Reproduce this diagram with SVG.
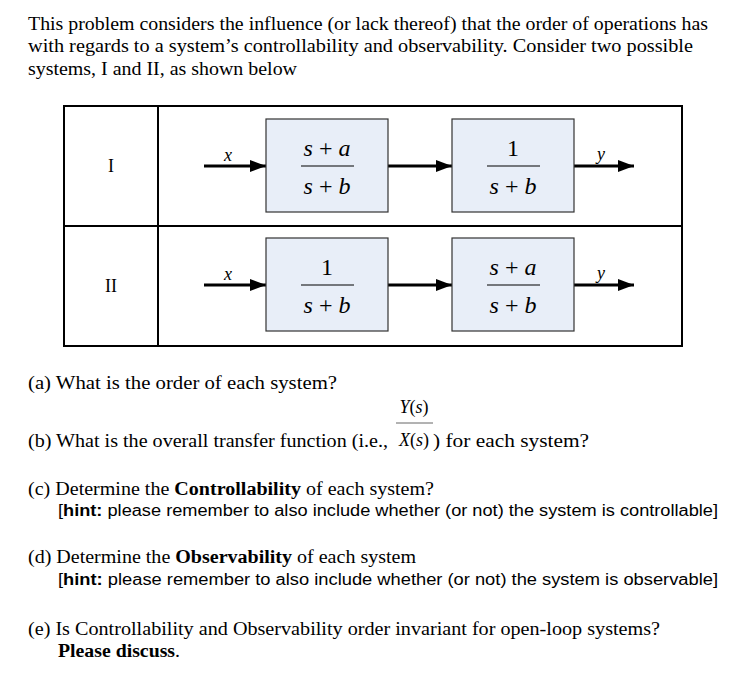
<svg xmlns="http://www.w3.org/2000/svg" width="733" height="676" viewBox="0 0 733 676">
<defs>
<marker id="a" viewBox="0 0 16 12" refX="16" refY="6" markerWidth="16" markerHeight="12" markerUnits="userSpaceOnUse" orient="auto"><path d="M0,0 L16,6 L0,12 z" fill="#000"/></marker>
</defs>
<style>
.t{font-family:"Liberation Serif",serif;font-size:18px;fill:#000}
.h{font-family:"Liberation Sans",sans-serif;font-size:16px;fill:#000}
.f{font-family:"Liberation Serif","DejaVu Serif",serif;font-size:24px;fill:#000;text-anchor:middle}
.v{font-family:"Liberation Serif","DejaVu Serif",serif;font-size:18px;font-style:italic;fill:#000;text-anchor:middle}
.i{font-style:italic}
.box{fill:#e8eef8;stroke:#333;stroke-width:1.2}
.fl{stroke:#000;stroke-width:1.2}
.w{stroke:#000;stroke-width:3;fill:none;marker-end:url(#a)}
</style>
<rect width="733" height="676" fill="#fff"/>
<text class="t" x="28" y="30" textLength="680" lengthAdjust="spacingAndGlyphs">This problem considers the influence (or lack thereof) that the order of operations has</text>
<text class="t" x="28" y="52" textLength="665" lengthAdjust="spacingAndGlyphs">with regards to a system’s controllability and observability.  Consider two possible</text>
<text class="t" x="28" y="75" textLength="269" lengthAdjust="spacingAndGlyphs">systems, I and II, as shown below</text>
<g id="table" fill="none" stroke="#000" stroke-width="2">
<rect x="64" y="106" width="618" height="240"/>
<line x1="158" y1="106" x2="158" y2="346"/>
<line x1="64" y1="226" x2="682" y2="226"/>
</g>
<text class="t" x="111" y="172" text-anchor="middle">I</text>
<text class="t" x="111" y="292" text-anchor="middle">II</text>
<g id="connectors">
<path class="w" d="M204,166 H266"/><path class="w" d="M388,166 H452"/><path class="w" d="M574,166 H634"/>
<path class="w" d="M204,285 H266"/><path class="w" d="M388,285 H452"/><path class="w" d="M574,285 H634"/>
</g>
<text class="v" x="228" y="161">x</text><text class="v" x="601" y="160">y</text>
<text class="v" x="228" y="280">x</text><text class="v" x="601" y="279">y</text>
<g id="b1"><rect class="box" x="266" y="119" width="122" height="93"/><line class="fl" x1="301" y1="166" x2="354" y2="166"/><text class="f" x="327" y="156"><tspan class="i">s</tspan> + <tspan class="i">a</tspan></text><text class="f" x="327" y="194"><tspan class="i">s</tspan> + <tspan class="i">b</tspan></text></g>
<g id="b2"><rect class="box" x="452" y="119" width="122" height="93"/><line class="fl" x1="487" y1="166" x2="540" y2="166"/><text class="f" x="513" y="156">1</text><text class="f" x="513" y="194"><tspan class="i">s</tspan> + <tspan class="i">b</tspan></text></g>
<g id="b3"><rect class="box" x="266" y="238" width="122" height="93"/><line class="fl" x1="301" y1="285" x2="354" y2="285"/><text class="f" x="327" y="275">1</text><text class="f" x="327" y="313"><tspan class="i">s</tspan> + <tspan class="i">b</tspan></text></g>
<g id="b4"><rect class="box" x="452" y="238" width="122" height="93"/><line class="fl" x1="487" y1="285" x2="540" y2="285"/><text class="f" x="513" y="275"><tspan class="i">s</tspan> + <tspan class="i">a</tspan></text><text class="f" x="513" y="313"><tspan class="i">s</tspan> + <tspan class="i">b</tspan></text></g>
<text class="t" x="28" y="389" textLength="309" lengthAdjust="spacingAndGlyphs">(a) What is the order of each system?</text>
<text class="t" x="414" y="413" text-anchor="middle"><tspan class="i">Y</tspan>(<tspan class="i">s</tspan>)</text>
<line x1="396" y1="423" x2="433" y2="423" stroke="#666" stroke-width="1"/>
<text class="t" x="414" y="446" text-anchor="middle"><tspan class="i">X</tspan>(<tspan class="i">s</tspan>)</text>
<text class="t" x="28" y="447" textLength="360" lengthAdjust="spacingAndGlyphs">(b) What is the overall transfer function (i.e.,</text>
<text class="t" x="433" y="447" textLength="156" lengthAdjust="spacingAndGlyphs">) for each system?</text>
<text class="t" x="28" y="495" textLength="406" lengthAdjust="spacingAndGlyphs">(c) Determine the <tspan font-weight="bold">Controllability</tspan> of each system?</text>
<text class="h" x="58" y="516" textLength="660" lengthAdjust="spacingAndGlyphs">[<tspan font-weight="bold">hint:</tspan> please remember to also include whether (or not) the system is controllable]</text>
<text class="t" x="28" y="563" textLength="388" lengthAdjust="spacingAndGlyphs">(d) Determine the <tspan font-weight="bold">Observability</tspan> of each system</text>
<text class="h" x="58" y="585" textLength="660" lengthAdjust="spacingAndGlyphs">[<tspan font-weight="bold">hint:</tspan> please remember to also include whether (or not) the system is observable]</text>
<text class="t" x="28" y="635" textLength="632" lengthAdjust="spacingAndGlyphs">(e) Is Controllability and Observability order invariant for open-loop systems?</text>
<text class="t" x="58" y="657" textLength="122" lengthAdjust="spacingAndGlyphs"><tspan font-weight="bold">Please discuss</tspan>.</text>
</svg>
